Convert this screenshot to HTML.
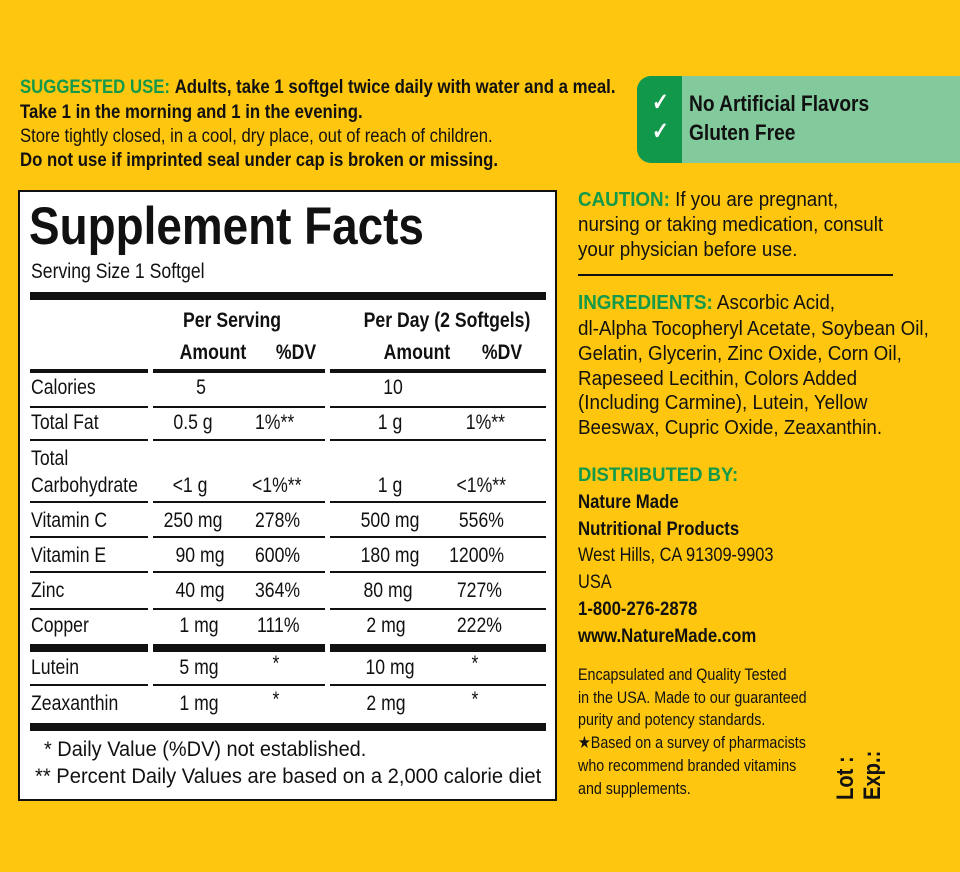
<!DOCTYPE html>
<html><head><meta charset="utf-8"><style>
*{margin:0;padding:0;box-sizing:border-box}
body{width:960px;height:872px;background:#FEC60F;position:relative;overflow:hidden;font-family:"Liberation Sans",sans-serif;color:#111}
.a{position:absolute;white-space:nowrap;line-height:24px;transform-origin:0 0;transform:scaleX(.84)}
.a.x{transform:scaleX(.86)}
.a.w{transform:scaleX(.94);font-size:20px}
.b{font-weight:bold}
.g{color:#13994A;font-weight:bold}
.t{font-size:21px}
.r{font-size:19.5px}
.ln{position:absolute;background:#111}
.a.c{transform:translateX(-42%) scaleX(.84)}
.a.rt{transform:translateX(-84%) scaleX(.84)}
.e{font-size:17px;line-height:22.8px}
</style></head><body>
<div class="a r x" style="left:20px;top:75px"><span class="g">SUGGESTED USE:</span> <b>Adults, take 1 softgel twice daily with water and a meal.</b></div>
<div class="a r b x" style="left:20px;top:100px">Take 1 in the morning and 1 in the evening.</div>
<div class="a r" style="left:20px;top:124px;transform:scaleX(.855)">Store tightly closed, in a cool, dry place, out of reach of children.</div>
<div class="a r b x" style="left:20px;top:148px">Do not use if imprinted seal under cap is broken or missing.</div>

<div style="position:absolute;left:637px;top:76px;width:330px;height:87px;background:#82C99C;border-radius:14px 0 0 14px;overflow:hidden">
<div style="position:absolute;left:0;top:0;width:45px;height:87px;background:#11984A"></div></div>
<div class="a b" style="left:652px;top:91px;color:#fff;font-size:24px">✓</div>
<div class="a b" style="left:652px;top:120px;color:#fff;font-size:24px">✓</div>
<div class="a b" style="left:689px;top:92px;font-size:22px;transform:scaleX(.87)">No Artificial Flavors</div>
<div class="a b" style="left:689px;top:121px;font-size:22px;transform:scaleX(.87)">Gluten Free</div>

<div style="position:absolute;left:18px;top:190px;width:539px;height:611px;background:#fff;border:2px solid #111"></div>
<div class="a b" style="left:29px;top:199px;font-size:53px;line-height:56px;transform:scaleX(.865)">Supplement Facts</div>
<div class="a" style="left:31px;top:260px;font-size:21px">Serving Size 1 Softgel</div>
<div class="ln" style="left:30px;top:292px;width:516px;height:8px"></div>

<div class="a t b c" style="left:232px;top:309px">Per Serving</div>
<div class="a t b c" style="left:447px;top:309px">Per Day (2 Softgels)</div>
<div class="a t b c" style="left:213px;top:341px">Amount</div>
<div class="a t b c" style="left:296px;top:341px">%DV</div>
<div class="a t b c" style="left:417px;top:341px">Amount</div>
<div class="a t b c" style="left:502px;top:341px">%DV</div>

<div class="ln" style="left:30px;top:369px;width:118px;height:4px"></div>
<div class="ln" style="left:153px;top:369px;width:172px;height:4px"></div>
<div class="ln" style="left:330px;top:369px;width:216px;height:4px"></div>

<div class="ln" style="left:30px;top:406px;width:118px;height:2px"></div><div class="ln" style="left:153px;top:406px;width:172px;height:2px"></div><div class="ln" style="left:330px;top:406px;width:216px;height:2px"></div>
<div class="ln" style="left:30px;top:439px;width:118px;height:2px"></div><div class="ln" style="left:153px;top:439px;width:172px;height:2px"></div><div class="ln" style="left:330px;top:439px;width:216px;height:2px"></div>
<div class="ln" style="left:30px;top:501px;width:118px;height:2px"></div><div class="ln" style="left:153px;top:501px;width:172px;height:2px"></div><div class="ln" style="left:330px;top:501px;width:216px;height:2px"></div>
<div class="ln" style="left:30px;top:536px;width:118px;height:2px"></div><div class="ln" style="left:153px;top:536px;width:172px;height:2px"></div><div class="ln" style="left:330px;top:536px;width:216px;height:2px"></div>
<div class="ln" style="left:30px;top:571px;width:118px;height:2px"></div><div class="ln" style="left:153px;top:571px;width:172px;height:2px"></div><div class="ln" style="left:330px;top:571px;width:216px;height:2px"></div>
<div class="ln" style="left:30px;top:608px;width:118px;height:2px"></div><div class="ln" style="left:153px;top:608px;width:172px;height:2px"></div><div class="ln" style="left:330px;top:608px;width:216px;height:2px"></div>
<div class="ln" style="left:30px;top:644px;width:118px;height:8px"></div><div class="ln" style="left:153px;top:644px;width:172px;height:8px"></div><div class="ln" style="left:330px;top:644px;width:216px;height:8px"></div>
<div class="ln" style="left:30px;top:684px;width:118px;height:2px"></div><div class="ln" style="left:153px;top:684px;width:172px;height:2px"></div><div class="ln" style="left:330px;top:684px;width:216px;height:2px"></div>
<div class="ln" style="left:30px;top:723px;width:516px;height:8px"></div>

<div class="a t" style="left:31px;top:376px">Calories</div>
<div class="a t c" style="left:201px;top:376px">5</div>
<div class="a t c" style="left:393px;top:376px">10</div>

<div class="a t" style="left:31px;top:411px">Total Fat</div>
<div class="a t c" style="left:193px;top:411px">0.5 g</div>
<div class="a t" style="left:255px;top:411px">1%**</div>
<div class="a t c" style="left:390px;top:411px">1 g</div>
<div class="a t rt" style="left:505px;top:411px">1%**</div>

<div class="a t" style="left:31px;top:447px">Total</div>
<div class="a t" style="left:31px;top:474px">Carbohydrate</div>
<div class="a t c" style="left:190px;top:474px">&lt;1 g</div>
<div class="a t" style="left:252px;top:474px">&lt;1%**</div>
<div class="a t c" style="left:390px;top:474px">1 g</div>
<div class="a t rt" style="left:506px;top:474px">&lt;1%**</div>

<div class="a t" style="left:31px;top:509px">Vitamin C</div>
<div class="a t c" style="left:193px;top:509px">250 mg</div>
<div class="a t" style="left:255px;top:509px">278%</div>
<div class="a t c" style="left:390px;top:509px">500 mg</div>
<div class="a t rt" style="left:504px;top:509px">556%</div>

<div class="a t" style="left:31px;top:544px">Vitamin E</div>
<div class="a t c" style="left:200px;top:544px">90 mg</div>
<div class="a t" style="left:255px;top:544px">600%</div>
<div class="a t c" style="left:390px;top:544px">180 mg</div>
<div class="a t rt" style="left:504px;top:544px">1200%</div>

<div class="a t" style="left:31px;top:579px">Zinc</div>
<div class="a t c" style="left:200px;top:579px">40 mg</div>
<div class="a t" style="left:255px;top:579px">364%</div>
<div class="a t c" style="left:388px;top:579px">80 mg</div>
<div class="a t rt" style="left:502px;top:579px">727%</div>

<div class="a t" style="left:31px;top:614px">Copper</div>
<div class="a t c" style="left:199px;top:614px">1 mg</div>
<div class="a t" style="left:257px;top:614px">111%</div>
<div class="a t c" style="left:386px;top:614px">2 mg</div>
<div class="a t rt" style="left:502px;top:614px">222%</div>

<div class="a t" style="left:31px;top:656px">Lutein</div>
<div class="a t c" style="left:199px;top:656px">5 mg</div>
<div class="a t c" style="left:276px;top:652px">*</div>
<div class="a t c" style="left:390px;top:656px">10 mg</div>
<div class="a t c" style="left:475px;top:652px">*</div>

<div class="a t" style="left:31px;top:692px">Zeaxanthin</div>
<div class="a t c" style="left:199px;top:692px">1 mg</div>
<div class="a t c" style="left:276px;top:688px">*</div>
<div class="a t c" style="left:386px;top:692px">2 mg</div>
<div class="a t c" style="left:475px;top:688px">*</div>

<div class="a t" style="left:44px;top:738px;transform:scaleX(.95)">* Daily Value (%DV) not established.</div>
<div class="a t" style="left:35px;top:765px;transform:scaleX(.96)">** Percent Daily Values are based on a 2,000 calorie diet</div>

<div class="a w" style="left:578px;top:188px"><span class="g">CAUTION:</span> If you are pregnant,</div>
<div class="a w" style="left:578px;top:213px">nursing or taking medication, consult</div>
<div class="a w" style="left:578px;top:238px">your physician before use.</div>
<div class="ln" style="left:578px;top:274px;width:315px;height:2px"></div>

<div class="a w" style="left:578px;top:291px"><span class="g">INGREDIENTS:</span> Ascorbic Acid,</div>
<div class="a w" style="left:578px;top:317px">dl-Alpha Tocopheryl Acetate, Soybean Oil,</div>
<div class="a w" style="left:578px;top:342px">Gelatin, Glycerin, Zinc Oxide, Corn Oil,</div>
<div class="a w" style="left:578px;top:367px">Rapeseed Lecithin, Colors Added</div>
<div class="a w" style="left:578px;top:391px">(Including Carmine), Lutein, Yellow</div>
<div class="a w" style="left:578px;top:416px">Beeswax, Cupric Oxide, Zeaxanthin.</div>

<div class="a r g" style="left:578px;top:463px;transform:scaleX(.95)">DISTRIBUTED BY:</div>
<div class="a r b x" style="left:578px;top:490px">Nature Made</div>
<div class="a r b x" style="left:578px;top:517px">Nutritional Products</div>
<div class="a r" style="left:578px;top:543px">West Hills, CA 91309-9903</div>
<div class="a r" style="left:578px;top:570px">USA</div>
<div class="a r b x" style="left:578px;top:597px">1-800-276-2878</div>
<div class="a r b x" style="left:578px;top:624px">www.NatureMade.com</div>

<div class="a e" style="left:578px;top:664px">Encapsulated and Quality Tested</div>
<div class="a e" style="left:578px;top:687px">in the USA. Made to our guaranteed</div>
<div class="a e" style="left:578px;top:709px">purity and potency standards.</div>
<div class="a e" style="left:578px;top:732px">★Based on a survey of pharmacists</div>
<div class="a e" style="left:578px;top:755px">who recommend branded vitamins</div>
<div class="a e" style="left:578px;top:778px">and supplements.</div>

<div class="a b" style="left:834px;top:800px;font-size:24px;transform:rotate(-90deg) scaleX(.84)">Lot :</div>
<div class="a b" style="left:861px;top:800px;font-size:24px;transform:rotate(-90deg) scaleX(.84)">Exp.:</div>
</body></html>
